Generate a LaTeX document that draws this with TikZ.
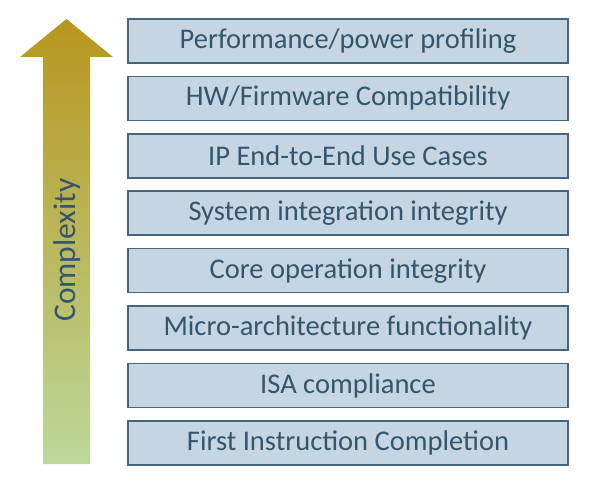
\documentclass[tikz,border=0pt]{standalone}
\usepackage{fontspec}
\setmainfont{Carlito}
\usetikzlibrary{positioning}
\definecolor{boxfill}{HTML}{C6D5E2}
\definecolor{boxline}{HTML}{46667F}
\definecolor{boxtext}{HTML}{33566F}
\definecolor{arrowtop}{HTML}{B8961E}
\definecolor{arrowbot}{HTML}{BCD89A}
\tikzset{
    level/.style={draw=boxline, line width=1.5pt, fill=boxfill, text=boxtext,
        minimum width=440pt, minimum height=44pt, inner sep=0pt,
        font=\fontsize{28.5}{32}\selectfont},
}
\begin{document}
\begin{tikzpicture}[x=1pt, y=1pt]
    \useasboundingbox (0,0) rectangle (596,480);

    \def\gap{11.9pt};

% levels, top to bottom
    \node[level] (perf) at (348, 439) {Performance/power profiling};
    \node[level, below=\gap of perf] (hwfw) {HW/Firmware Compatibility};
    \node[level, below=\gap of hwfw] (ipuse) {IP End-to-End Use Cases};
    \node[level, below=\gap of ipuse] (sysint) {System integration integrity};
    \node[level, below=\gap of sysint] (coreop) {Core operation integrity};
    \node[level, below=\gap of coreop] (uarch) {Micro-architecture functionality};
    \node[level, below=\gap of uarch] (isa) {ISA compliance};
    \node[level, below=\gap of isa] (first) {First Instruction Completion};

% complexity arrow
    \shade[top color=arrowtop, bottom color=arrowbot]
        (43, 16) -- (90, 16) -- (90, 423) -- (113, 423) -- (66.5, 461)
        -- (20, 423) -- (43, 423) -- cycle;
    \node[rotate=90, text=boxtext, font=\fontsize{31.5}{34}\selectfont] (cplx) at (67, 230) {Complexity};

\end{tikzpicture}
\end{document}
